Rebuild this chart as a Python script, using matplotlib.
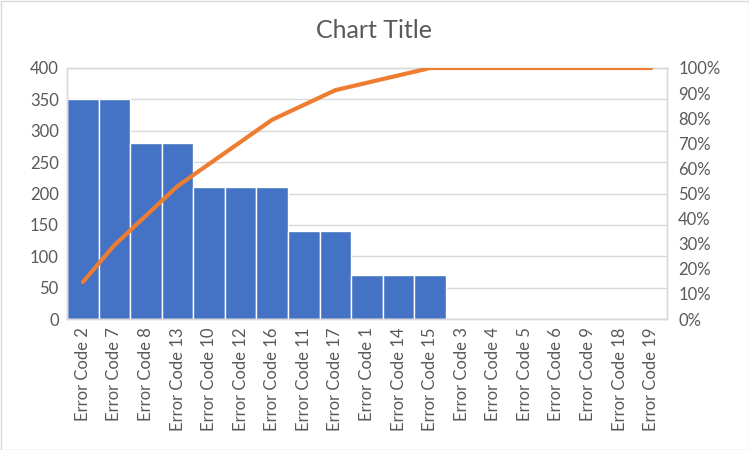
import numpy as np
import matplotlib.pyplot as plt
from matplotlib.ticker import PercentFormatter

codes = ["Error Code 2", "Error Code 7", "Error Code 8", "Error Code 13",
         "Error Code 10", "Error Code 12", "Error Code 16", "Error Code 11",
         "Error Code 17", "Error Code 1", "Error Code 14", "Error Code 15",
         "Error Code 3", "Error Code 4", "Error Code 5", "Error Code 6",
         "Error Code 9", "Error Code 18", "Error Code 19"]
counts = [350, 350, 280, 280, 210, 210, 210, 140, 140, 70, 70, 70,
          0, 0, 0, 0, 0, 0, 0]

cum_pct = np.cumsum(counts) / np.sum(counts)

plt.rcParams['font.family'] = ['Lato', 'DejaVu Sans']
text_col = '#595959'
grid_col = '#d9d9d9'

fig = plt.figure(figsize=(7.49, 4.5), dpi=100)
ax = fig.add_axes([67 / 749, 1 - 319 / 450, 600 / 749, 251 / 450])
x = np.arange(len(codes))
ax.bar(x, counts, width=1.0, color='#4472C4', edgecolor='white', linewidth=1, zorder=2)
ax.set_xlim(-0.5, len(codes) - 0.5)
ax.set_ylim(0, 400)
ax.set_yticks(np.arange(0, 401, 50))
ax.set_xticks(x)
ax.set_xticklabels(codes, rotation=90)
ax.yaxis.grid(True, color=grid_col, linewidth=1, zorder=0)
ax.set_axisbelow(True)
ax.tick_params(length=0, labelsize=12, colors=text_col, pad=6)

ax2 = ax.twinx()
ax2.plot(x, cum_pct, color='#ED7D31', linewidth=3, solid_capstyle='round', zorder=3)
ax2.set_ylim(0, 1)
ax2.set_yticks(np.arange(0, 1.01, 0.1))
ax2.yaxis.set_major_formatter(PercentFormatter(1.0, decimals=0))
ax2.tick_params(length=0, labelsize=12, colors=text_col, pad=8)

for a in (ax, ax2):
    for s in a.spines.values():
        s.set_color(grid_col)
        s.set_linewidth(1)

fig.text(0.5, 1 - 31 / 450, "Chart Title", ha='center', va='center',
         fontsize=18, color=text_col)

border = plt.Rectangle((0.5 / 749, 0.5 / 450), 1 - 1 / 749, 1 - 1 / 450,
                       transform=fig.transFigure, fill=False,
                       edgecolor=grid_col, linewidth=1)
fig.patches.append(border)

fig.savefig("out.png", dpi=100)
